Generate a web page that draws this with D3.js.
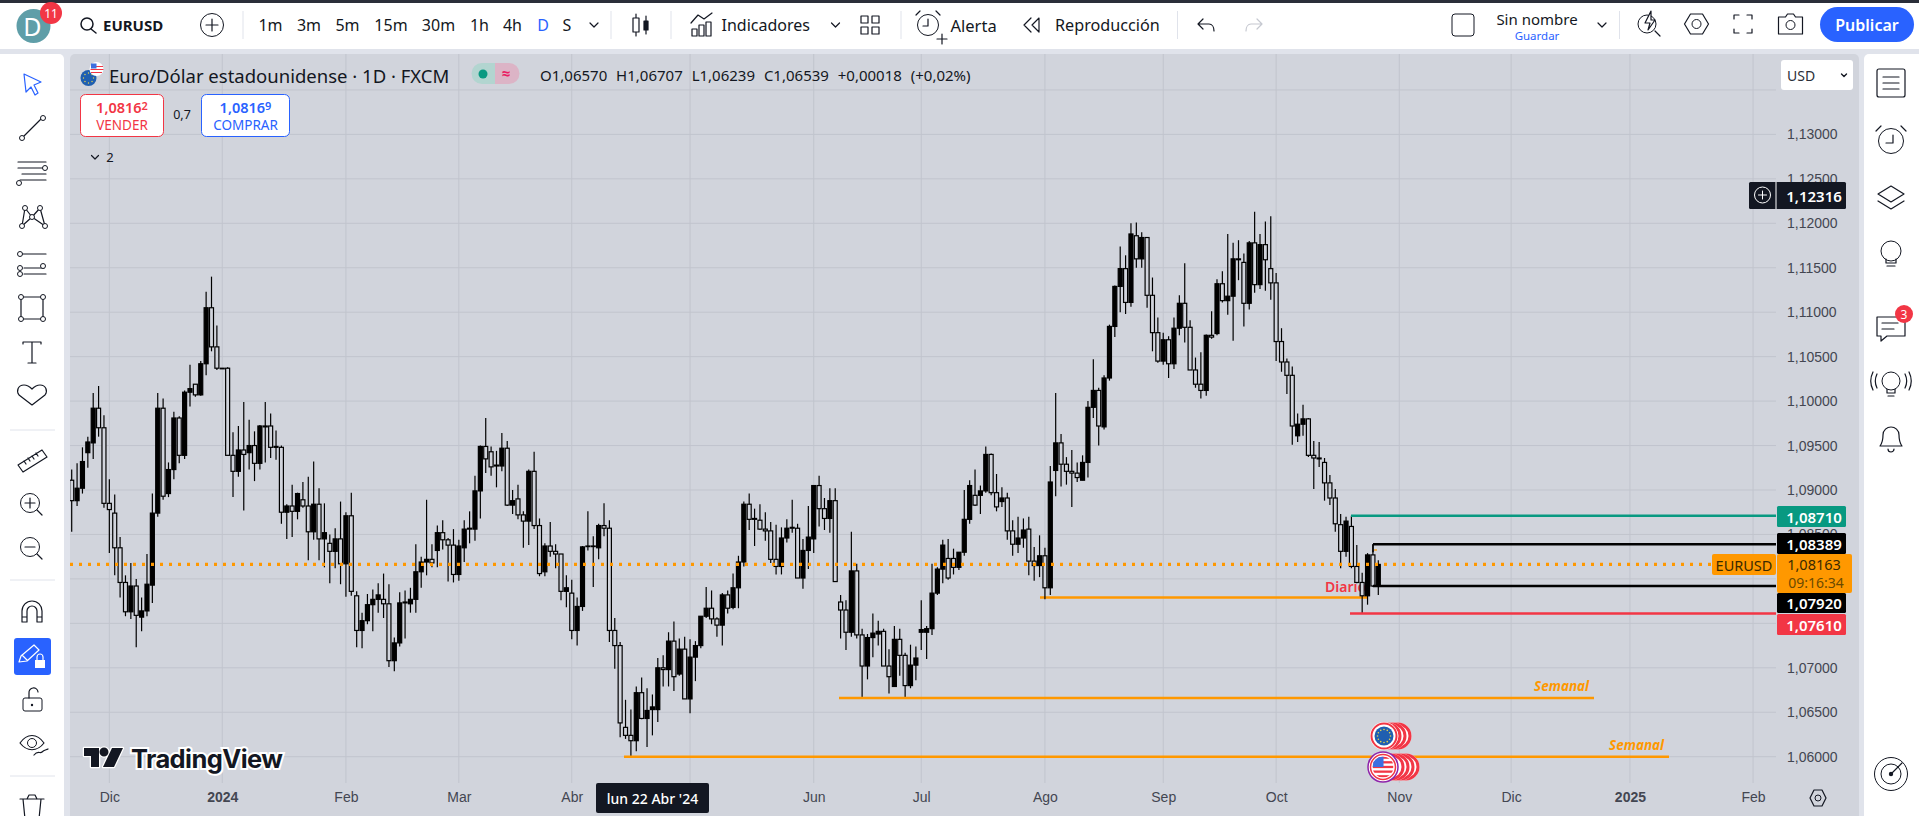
<!DOCTYPE html>
<html>
<head>
<meta charset="utf-8">
<title>EURUSD 1D</title>
<script src="https://cdn.jsdelivr.net/npm/d3@7"></script>
<style>
html, body { margin: 0; padding: 0; background: #e0e3eb; overflow: hidden; }
svg { display: block; font-family: "Noto Sans", "Open Sans", sans-serif; }
</style>
</head>
<body>
<svg id="chart" width="1919" height="816"></svg>
<script>
// daily bars
const opens = [
1.0911,1.0888,1.0902,1.0942,1.0953,1.0992,1.0970,1.0885,1.0874,1.0835,
1.0796,1.0763,1.0792,1.0757,1.0764,1.0793,1.0874,1.0992,1.0896,1.0923,
1.0981,1.0939,1.1010,1.1019,1.1007,1.1042,1.1105,1.1061,1.1037,1.1037,
1.0939,1.0921,1.0945,1.0942,1.0950,1.0930,1.0972,1.0972,1.0948,1.0948,
1.0875,1.0882,1.0876,1.0889,1.0882,1.0853,1.0884,1.0845,1.0840,1.0831,
1.0845,1.0817,1.0871,1.0781,1.0742,1.0753,1.0771,1.0777,1.0777,1.0772,
1.0708,1.0728,1.0773,1.0772,1.0777,1.0808,1.0819,1.0822,1.0832,1.0852,
1.0844,1.0838,1.0805,1.0835,1.0857,1.0856,1.0899,1.0949,1.0943,1.0928,
1.0927,1.0947,1.0883,1.0890,1.0872,1.0865,1.0921,1.0860,1.0808,1.0837,
1.0831,1.0828,1.0786,1.0784,1.0742,1.0769,1.0837,1.0837,1.0835,1.0860,
1.0857,1.0742,1.0725,1.0633,1.0624,1.0618,1.0672,1.0643,1.0653,1.0653,
1.0700,1.0698,1.0730,1.0693,1.0721,1.0665,1.0712,1.0725,1.0758,1.0767,
1.0755,1.0748,1.0782,1.0768,1.0790,1.0819,1.0884,1.0868,1.0866,1.0856,
1.0854,1.0822,1.0814,1.0846,1.0858,1.0857,1.0801,1.0832,1.0845,1.0905,
1.0879,1.0868,1.0888,1.0774,1.0765,1.0740,1.0809,1.0737,1.0702,1.0734,
1.0738,1.0741,1.0702,1.0679,1.0732,1.0714,1.0680,1.0703,1.0740,1.0740,
1.0744,1.0784,1.0811,1.0823,1.0823,1.0813,1.0830,1.0867,1.0894,1.0894,
1.0899,1.0940,1.0897,1.0887,1.0891,1.0854,1.0839,1.0846,1.0856,1.0820,
1.0815,1.0826,1.0790,1.0922,1.0953,1.0929,1.0921,1.0919,1.0911,1.0931,
1.0993,1.1012,1.0971,1.1026,1.1084,1.1129,1.1149,1.1111,1.1186,1.1160,
1.1184,1.1119,1.1077,1.1045,1.1069,1.1042,1.1082,1.1110,1.1083,1.1035,
1.1019,1.1012,1.1074,1.1076,1.1132,1.1113,1.1118,1.1160,1.1156,1.1110,
1.1178,1.1131,1.1176,1.1149,1.1133,1.1067,1.1044,1.1029,1.0961,1.0974,
1.0980,1.0939,1.0936,1.0931,1.0908,1.0891,1.0861,1.0831,1.0859,1.0814,
1.0796,1.0781,1.0827,1.0792
]
const highs = [
1.0923,1.0930,1.0948,1.0960,1.1009,1.1017,1.0984,1.0912,1.0895,1.0847,
1.0804,1.0818,1.0800,1.0779,1.0828,1.0896,1.1009,1.1003,1.0931,1.0988,
1.0983,1.1012,1.1041,1.1019,1.1045,1.1123,1.1140,1.1085,1.1037,1.1038,
1.0965,1.0972,1.0999,1.0979,1.0966,1.0973,1.0999,1.0986,1.0967,1.0950,
1.0884,1.0906,1.0897,1.0909,1.0915,1.0932,1.0902,1.0885,1.0850,1.0857,
1.0887,1.0875,1.0897,1.0786,1.0762,1.0783,1.0788,1.0795,1.0806,1.0794,
1.0734,1.0785,1.0787,1.0790,1.0839,1.0825,1.0889,1.0839,1.0860,1.0866,
1.0846,1.0856,1.0844,1.0866,1.0876,1.0916,1.0950,1.0981,1.0949,1.0944,
1.0964,1.0955,1.0900,1.0906,1.0876,1.0923,1.0943,1.0868,1.0840,1.0864,
1.0839,1.0828,1.0804,1.0799,1.0779,1.0837,1.0876,1.0848,1.0862,1.0885,
1.0866,1.0756,1.0729,1.0664,1.0653,1.0679,1.0689,1.0677,1.0670,1.0711,
1.0714,1.0740,1.0752,1.0733,1.0735,1.0732,1.0730,1.0758,1.0791,1.0787,
1.0757,1.0784,1.0787,1.0806,1.0826,1.0887,1.0896,1.0879,1.0884,1.0875,
1.0864,1.0861,1.0858,1.0867,1.0889,1.0862,1.0845,1.0882,1.0905,1.0916,
1.0891,1.0902,1.0902,1.0782,1.0776,1.0853,1.0817,1.0744,1.0738,1.0761,
1.0753,1.0744,1.0721,1.0747,1.0744,1.0717,1.0726,1.0724,1.0776,1.0747,
1.0817,1.0813,1.0844,1.0845,1.0834,1.0830,1.0900,1.0911,1.0923,1.0905,
1.0949,1.0941,1.0918,1.0903,1.0897,1.0866,1.0870,1.0868,1.0870,1.0836,
1.0849,1.0835,1.0927,1.1009,1.0963,1.0937,1.0945,1.0931,1.0939,1.1000,
1.1047,1.1015,1.1029,1.1086,1.1130,1.1174,1.1164,1.1200,1.1201,1.1190,
1.1184,1.1139,1.1094,1.1077,1.1073,1.1094,1.1119,1.1155,1.1091,1.1049,
1.1055,1.1075,1.1101,1.1137,1.1146,1.1188,1.1178,1.1181,1.1166,1.1180,
1.1213,1.1188,1.1202,1.1208,1.1144,1.1082,1.1048,1.1039,1.0986,1.0996,
1.0981,1.0955,1.0954,1.0936,1.0917,1.0901,1.0873,1.0870,1.0871,1.0838,
1.0807,1.0829,1.08389,1.0821
]
const lows = [
1.0853,1.0882,1.0896,1.0925,1.0935,1.0960,1.0880,1.0829,1.0804,1.0779,
1.0758,1.0755,1.0723,1.0741,1.0758,1.0773,1.0870,1.0889,1.0892,1.0912,
1.0930,1.0935,1.0994,1.1005,1.1006,1.1029,1.1056,1.1035,1.1036,1.0939,
1.0892,1.0915,1.0877,1.0923,1.0910,1.0923,1.0931,1.0936,1.0934,1.0862,
1.0845,1.0847,1.0867,1.0880,1.0821,1.0844,1.0821,1.0813,1.0795,1.0812,
1.0794,1.0780,1.0781,1.0723,1.0722,1.0749,1.0741,1.0762,1.0756,1.0701,
1.0696,1.0724,1.0733,1.0762,1.0762,1.0790,1.0804,1.0813,1.0813,1.0833,
1.0797,1.0796,1.0798,1.0819,1.0840,1.0843,1.0868,1.0919,1.0916,1.0903,
1.0921,1.0882,1.0873,1.0867,1.0835,1.0838,1.0856,1.0803,1.0803,1.0825,
1.0812,1.0776,1.0768,1.0732,1.0725,1.0764,1.0832,1.0791,1.0822,1.0848,
1.0729,1.0699,1.0622,1.0620,1.0600,1.0606,1.0642,1.0611,1.0624,1.0639,
1.0679,1.0679,1.0674,1.0691,1.0665,1.0649,1.0685,1.0722,1.0756,1.0749,
1.0735,1.0725,1.0761,1.0766,1.0767,1.0814,1.0855,1.0837,1.0855,1.0843,
1.0818,1.0805,1.0805,1.0841,1.0852,1.0801,1.0789,1.0811,1.0829,1.0859,
1.0855,1.0852,1.0797,1.0733,1.0720,1.0735,1.0733,1.0667,1.0687,1.0712,
1.0725,1.0702,1.0671,1.0679,1.0691,1.0666,1.0677,1.0686,1.0720,1.0710,
1.0737,1.0782,1.0795,1.0799,1.0805,1.0810,1.0826,1.0862,1.0882,1.0873,
1.0897,1.0894,1.0876,1.0881,1.0844,1.0826,1.0829,1.0835,1.0804,1.0798,
1.0802,1.0777,1.0782,1.0893,1.0904,1.0906,1.0881,1.0909,1.0911,1.0914,
1.0981,1.0950,1.0968,1.1023,1.1072,1.1100,1.1098,1.1106,1.1150,1.1150,
1.1105,1.1056,1.1043,1.1041,1.1026,1.1036,1.1074,1.1066,1.1035,1.1015,
1.1003,1.1006,1.1070,1.1074,1.1111,1.1097,1.1068,1.1136,1.1084,1.1103,
1.1122,1.1126,1.1124,1.1114,1.1045,1.1033,1.1008,1.0951,1.0954,1.0961,
1.0937,1.0901,1.0926,1.0888,1.0883,1.0853,1.0812,1.0825,1.0812,1.0795,
1.0761,1.0771,1.0791,1.0782
]
const closes = [
1.0888,1.0902,1.0932,1.0954,1.0992,1.0970,1.0885,1.0878,1.0835,1.0796,
1.0763,1.0792,1.0759,1.0764,1.0794,1.0874,1.0992,1.0893,1.0923,1.0981,
1.0939,1.1010,1.1014,1.1007,1.1042,1.1105,1.1061,1.1037,1.1037,1.0939,
1.0921,1.0945,1.0940,1.0950,1.0930,1.0972,1.0971,1.0948,1.0949,1.0875,
1.0882,1.0876,1.0896,1.0882,1.0853,1.0884,1.0845,1.0852,1.0831,1.0845,
1.0817,1.0871,1.0786,1.0742,1.0753,1.0771,1.0777,1.0782,1.0772,1.0708,
1.0728,1.0773,1.0774,1.0777,1.0808,1.0819,1.0822,1.0818,1.0852,1.0844,
1.0838,1.0805,1.0837,1.0856,1.0856,1.0899,1.0949,1.0935,1.0926,1.0927,
1.0947,1.0883,1.0888,1.0872,1.0865,1.0921,1.0860,1.0806,1.0837,1.0831,
1.0828,1.0786,1.0790,1.0742,1.0769,1.0836,1.0837,1.0837,1.0860,1.0857,
1.0742,1.0725,1.0638,1.0624,1.0618,1.0672,1.0643,1.0652,1.0656,1.0700,
1.0698,1.0730,1.0690,1.0721,1.0665,1.0712,1.0725,1.0758,1.0767,1.0755,
1.0748,1.0782,1.0767,1.0790,1.0819,1.0884,1.0867,1.0867,1.0856,1.0854,
1.0822,1.0814,1.0846,1.0857,1.0857,1.0801,1.0832,1.0847,1.0905,1.0879,
1.0868,1.0888,1.0797,1.0765,1.0740,1.0809,1.0737,1.0702,1.0734,1.0739,
1.0741,1.0702,1.0690,1.0732,1.0714,1.0680,1.0703,1.0711,1.0743,1.0744,
1.0784,1.0811,1.0838,1.0801,1.0813,1.0830,1.0867,1.0905,1.0883,1.0899,
1.0940,1.0897,1.0881,1.0891,1.0854,1.0839,1.0846,1.0855,1.0820,1.0815,
1.0826,1.0790,1.0909,1.0953,1.0929,1.0921,1.0919,1.0914,1.0931,1.0993,
1.1012,1.0972,1.1026,1.1084,1.1129,1.1149,1.1111,1.1188,1.1160,1.1184,
1.1119,1.1077,1.1045,1.1069,1.1042,1.1082,1.1110,1.1083,1.1035,1.1019,
1.1012,1.1074,1.1072,1.1132,1.1113,1.1118,1.1160,1.1159,1.1110,1.1178,
1.1131,1.1176,1.1159,1.1133,1.1067,1.1044,1.1029,1.0972,1.0974,1.0980,
1.0939,1.0936,1.0935,1.0908,1.0891,1.0862,1.0831,1.0865,1.0814,1.0796,
1.0781,1.0827,1.0792,1.08163
]

const priceTicks = [1.135,1.13,1.125,1.12,1.115,1.11,1.105,1.1,1.095,1.09,1.085,1.08,1.075,1.07,1.065,1.06]
// these two sit fully under the price tags in the picture, so no label
const hiddenPriceLabels = [1.08, 1.075]
// where the months start, in bars from the first candle
const timeTicks = [7,28,51,72,93,115,138,158,181,203,224,246.9,267.7,289.8,312.7]
const timeLabels = ["Dic","2024","Feb","Mar","Abr","","Jun","Jul","Ago","Sep","Oct","Nov","Dic","2025","Feb"]

const lastPrice = 1.08163
const takeProfit = 1.0871
const blackHigh = 1.08389
const blackLow = 1.0792
const stopLoss = 1.0761
const diarioLevel = 1.0779
const semanalTop = 1.0666
const semanalBottom = 1.06

const svg = d3.select("#chart")
const BG = "#d1d4dc", GRID = "#c1c4cd", INK = "#131722", BLUE = "#2962ff", ORANGE = "#ff9800", RED = "#f23645", TEAL = "#089981"

const x = d3.scaleLinear().domain([0, 243]).range([71.7, 1378.3])
const y = d3.scaleLinear().domain([1.06, 1.13]).range([756.7, 134.4])

function text(g, px, py, str, o) {
    o = o || {}
    return g.append("text").attr("x", px).attr("y", py)
        .attr("text-anchor", o.anchor || "start")
        .attr("dominant-baseline", "central")
        .attr("font-size", o.size || 14)
        .attr("font-weight", o.weight || 400)
        .attr("font-style", o.style || "normal")
        .attr("fill", o.fill || INK)
        .text(str)
}

function icon(g, px, py, d, o) {
    o = o || {}
    return g.append("path").attr("transform", "translate(" + px + "," + py + ")")
        .attr("d", d).attr("fill", o.fill || "none")
        .attr("stroke", o.stroke || INK).attr("stroke-width", o.width || 1.2)
        .attr("stroke-linecap", "round").attr("stroke-linejoin", "round")
}

// ---- page panels
svg.append("rect").attr("width", 1919).attr("height", 816).attr("fill", "#e0e3eb")
svg.append("rect").attr("y", 0).attr("width", 1919).attr("height", 3).attr("fill", "#2a2e39")
svg.append("rect").attr("y", 3).attr("width", 1919).attr("height", 46).attr("fill", "#fff")
svg.append("rect").attr("x", -8).attr("y", 54).attr("width", 72).attr("height", 780).attr("rx", 5).attr("fill", "#fff")
svg.append("rect").attr("x", 1864).attr("y", 54).attr("width", 70).attr("height", 780).attr("rx", 5).attr("fill", "#fff")
svg.append("rect").attr("x", 70).attr("y", 54).attr("width", 1789).attr("height", 780).attr("rx", 5).attr("fill", BG)

// ---- grid
const grid = svg.append("g")
grid.selectAll("line.h").data(priceTicks).enter().append("line").attr("class", "h")
    .attr("x1", 70).attr("x2", 1776).attr("y1", d => y(d)).attr("y2", d => y(d))
    .attr("stroke", GRID).attr("stroke-width", 1)
grid.selectAll("line.v").data(timeTicks).enter().append("line").attr("class", "v")
    .attr("x1", d => x(d)).attr("x2", d => x(d)).attr("y1", 54).attr("y2", 783)
    .attr("stroke", GRID).attr("stroke-width", 1)

function level(price, x1, x2, color) {
    svg.append("line").attr("x1", x1).attr("x2", x2).attr("y1", y(price)).attr("y2", y(price))
        .attr("stroke", color).attr("stroke-width", 2.4)
}

// the daily level and its label stay behind the candles
text(svg, 1325, 586, "Diario", { size: 14, weight: 600, fill: RED })
level(diarioLevel, 1040, 1367, ORANGE)

// ---- candles
svg.append("clipPath").attr("id", "plot").append("rect").attr("x", 70).attr("y", 54).attr("width", 1706).attr("height", 729)
const bars = svg.append("g").attr("clip-path", "url(#plot)")
const candles = bars.selectAll("g.c").data(opens.map((d, i) => i)).enter().append("g").attr("class", "c")
candles.append("line")
    .attr("x1", i => x(i)).attr("x2", i => x(i))
    .attr("y1", i => y(highs[i])).attr("y2", i => y(lows[i]))
    .attr("stroke", "#000").attr("stroke-width", 1.2)
candles.append("rect")
    .attr("x", i => x(i) - 2).attr("width", 4)
    .attr("y", i => y(Math.max(opens[i], closes[i])))
    .attr("height", i => Math.max(0.6, Math.abs(y(opens[i]) - y(closes[i]))))
    .attr("fill", i => closes[i] > opens[i] ? "#000" : BG)
    .attr("stroke", "#000").attr("stroke-width", 1.2)

// ---- drawings on the chart
level(semanalTop, 839, 1594, ORANGE)
level(semanalBottom, 624, 1669, ORANGE)
level(takeProfit, 1351, 1776, TEAL)
level(blackHigh, 1373, 1776, "#000")
level(blackLow, 1373, 1776, "#000")
level(stopLoss, 1350, 1776, RED)
svg.append("line").attr("x1", 1373).attr("x2", 1373).attr("y1", y(blackHigh)).attr("y2", y(blackHigh) + 8).attr("stroke", "#000").attr("stroke-width", 1.5)
svg.append("rect").attr("x", 1374).attr("y", 549).attr("width", 3).attr("height", 2).attr("fill", ORANGE).attr("opacity", 0.6)

svg.append("line").attr("x1", 70).attr("x2", 1712).attr("y1", y(lastPrice)).attr("y2", y(lastPrice))
    .attr("stroke", ORANGE).attr("stroke-width", 3.2).attr("stroke-dasharray", "3 6")

text(svg, 1534, 686, "Semanal", { size: 13.5, weight: 700, style: "italic", fill: ORANGE })
text(svg, 1609, 745, "Semanal", { size: 13.5, weight: 700, style: "italic", fill: ORANGE })

// ---- economic event flags
function usFlag(cx, cy, r) {
    const id = "us" + cx
    svg.append("clipPath").attr("id", id).append("circle").attr("cx", cx).attr("cy", cy).attr("r", r)
    const f = svg.append("g").attr("clip-path", "url(#" + id + ")")
    f.append("rect").attr("x", cx - r).attr("y", cy - r).attr("width", 2 * r).attr("height", 2 * r).attr("fill", "#fff")
    d3.range(0, 5).forEach(k => {
        f.append("rect").attr("x", cx - r).attr("y", cy - r + k * 2 * r / 4.5).attr("width", 2 * r).attr("height", r / 4.6).attr("fill", RED)
    })
    f.append("rect").attr("x", cx - r).attr("y", cy - r).attr("width", r * 1.05).attr("height", r).attr("fill", "#3d6fe0")
}
function ring(cx, cy, r) {
    svg.append("circle").attr("cx", cx).attr("cy", cy).attr("r", r + 1.5).attr("fill", "#fff")
    svg.append("circle").attr("cx", cx).attr("cy", cy).attr("r", r).attr("fill", "none").attr("stroke", RED).attr("stroke-width", 3)
}
ring(1398, 736, 12); ring(1393, 736, 12); ring(1388, 736, 12)
svg.append("circle").attr("cx", 1384).attr("cy", 736).attr("r", 14).attr("fill", "#fff")
svg.append("circle").attr("cx", 1384).attr("cy", 736).attr("r", 12.5).attr("fill", "none").attr("stroke", RED).attr("stroke-width", 2)
svg.append("circle").attr("cx", 1384).attr("cy", 736).attr("r", 9.5).attr("fill", "#1f5fb0")
svg.selectAll("circle.star").data(d3.range(12)).enter().append("circle").attr("class", "star")
    .attr("cx", k => 1384 + 6.5 * Math.cos(k * Math.PI / 6)).attr("cy", k => 736 + 6.5 * Math.sin(k * Math.PI / 6))
    .attr("r", 0.8).attr("fill", "#e8d44d")

ring(1406, 767, 12); ring(1401, 767, 12); ring(1396, 767, 12); ring(1391, 767, 12)
svg.append("circle").attr("cx", 1383).attr("cy", 767).attr("r", 15).attr("fill", "#fff").attr("stroke", "#8e24aa").attr("stroke-width", 1.5)
svg.append("circle").attr("cx", 1383).attr("cy", 767).attr("r", 12.5).attr("fill", "none").attr("stroke", RED).attr("stroke-width", 1.5)
usFlag(1383, 767, 10.5)

// ---- price axis
const yAxis = d3.axisRight(y).tickValues(priceTicks.slice(1).filter(d => !hiddenPriceLabels.includes(d))).tickSize(0).tickPadding(0)
    .tickFormat(d => d3.format(".5f")(d).replace(".", ","))
const yG = svg.append("g").attr("transform", "translate(1787,0)").call(yAxis)
yG.select(".domain").remove()
yG.selectAll("text").attr("font-family", "inherit").attr("font-size", 14).attr("fill", "#434651")

function priceTag(x1, x2, y1, y2, color, label, fg) {
    svg.append("rect").attr("x", x1).attr("y", y1).attr("width", x2 - x1).attr("height", y2 - y1).attr("rx", 1.5).attr("fill", color)
    text(svg, 1814, (y1 + y2) / 2, label, { anchor: "middle", size: 15, weight: 600, fill: fg || "#fff" })
}
priceTag(1749, 1846, 182, 209, INK, "1,12316")
svg.append("line").attr("x1", 1776).attr("x2", 1776).attr("y1", 182).attr("y2", 209).attr("stroke", "#fff")
svg.append("circle").attr("cx", 1762.5).attr("cy", 195).attr("r", 8).attr("fill", "none").attr("stroke", "#fff")
icon(svg, 1762.5, 195, "M-4 0H4M0 -4V4", { stroke: "#fff", width: 1 })
priceTag(1777, 1846, 506, 527, TEAL, "1,08710")
priceTag(1777, 1846, 533, 554, "#000", "1,08389")
priceTag(1777, 1846, 593, 613, "#000", "1,07920")
priceTag(1777, 1846, 614, 635, RED, "1,07610")
svg.append("rect").attr("x", 1712).attr("y", 554).attr("width", 64).attr("height", 21).attr("rx", 2).attr("fill", ORANGE)
text(svg, 1744, 564.5, "EURUSD", { anchor: "middle", size: 14.5, fill: "#3a2a00" })
svg.append("rect").attr("x", 1777).attr("y", 554).attr("width", 75).attr("height", 39).attr("rx", 2).attr("fill", ORANGE)
text(svg, 1814, 564, "1,08163", { anchor: "middle", size: 14.5, fill: "#3a2a00" })
text(svg, 1816, 582, "09:16:34", { anchor: "middle", fill: "#6b4a00" })

svg.append("rect").attr("x", 1781).attr("y", 60).attr("width", 72).attr("height", 30).attr("rx", 3).attr("fill", "#fff")
text(svg, 1787, 75, "USD", { size: 14, fill: "#2a2e39" })
icon(svg, 1844, 75, "M-2.5 -1L0 1.5L2.5 -1", { width: 1.4 })

// ---- time axis
const xAxis = d3.axisBottom(x).tickValues(timeTicks).tickSize(0).tickPadding(0)
    .tickFormat((d, i) => timeLabels[i])
const xG = svg.append("g").attr("transform", "translate(0,792)").call(xAxis)
xG.select(".domain").remove()
xG.selectAll("text").attr("font-family", "inherit").attr("font-size", 14).attr("fill", "#434651")
    .attr("font-weight", d => (d === 28 || d === 289.8) ? 700 : 400)

svg.append("rect").attr("x", 596).attr("y", 783).attr("width", 113).attr("height", 30).attr("rx", 2).attr("fill", INK)
text(svg, 652.5, 798, "lun 22 Abr '24", { anchor: "middle", fill: "#fff", weight: 500 })
icon(svg, 1818, 798, "M-4 -8L4 -8L8 0L4 8L-4 8L-8 0Z")
svg.append("circle").attr("cx", 1818).attr("cy", 798).attr("r", 3).attr("fill", "none").attr("stroke", INK)

// ---- logo
const logo = svg.append("g")
text(logo, 131, 758, "TradingView", { size: 25.5, weight: 700, fill: INK })
    .attr("font-family", "Inter").attr("letter-spacing", -0.6)
    .attr("paint-order", "stroke").attr("stroke", "#fff").attr("stroke-width", 4)
icon(logo, 0, 0, "M84 748H99V767H91V756H84Z M104 752m-4.5 0a4.5 4.5 0 1 0 9 0a4.5 4.5 0 1 0 -9 0 M112 748H123L114 767H103Z", { fill: INK, stroke: "#fff", width: 2.5 })
    .attr("paint-order", "stroke")

// ---- chart legend
const leg = svg.append("g")
leg.append("circle").attr("cx", 88.5).attr("cy", 78).attr("r", 8).attr("fill", "#1f5fb0")
leg.selectAll("circle.legstar").data(d3.range(8)).enter().append("circle").attr("class", "legstar")
    .attr("cx", k => 88.5 + 5 * Math.cos(k * Math.PI / 4)).attr("cy", k => 78 + 5 * Math.sin(k * Math.PI / 4))
    .attr("r", 0.7).attr("fill", "#e8d44d")
leg.append("circle").attr("cx", 96.5).attr("cy", 69).attr("r", 7).attr("fill", "#fff")
leg.append("path").attr("d", "M91 66.5h12M90.5 69.5h13M91 72.5h11").attr("stroke", RED).attr("stroke-width", 1.2)
leg.append("rect").attr("x", 91).attr("y", 63.5).attr("width", 5.5).attr("height", 5).attr("fill", "#3d6fe0")
text(leg, 109, 75, "Euro/Dólar estadounidense · 1D · FXCM", { size: 18.5 })
leg.append("path").attr("d", "M482 63H495V84H482a10.5 10.5 0 0 1 0 -21Z").attr("fill", "#b2d5d0")
leg.append("path").attr("d", "M495 63H509a10.5 10.5 0 0 1 0 21H495Z").attr("fill", "#dcb4c6")
leg.append("circle").attr("cx", 483).attr("cy", 74).attr("r", 4.5).attr("fill", TEAL)
text(leg, 506, 73, "≈", { size: 15, anchor: "middle", weight: 700, fill: "#e91e63" })
text(leg, 540, 75, "O1,06570 H1,06707 L1,06239 C1,06539 +0,00018 (+0,02%)", { size: 15 }).attr("word-spacing", 5)

function quote(cx, main, small, color) {
    const t = text(leg, cx, 107, main, { anchor: "middle", size: 14.5, weight: 600, fill: color })
    t.append("tspan").attr("font-size", 11).attr("dy", -2.5).text(small)
}
leg.append("rect").attr("x", 80.5).attr("y", 94.5).attr("width", 83).attr("height", 42).attr("rx", 5).attr("fill", "#fff").attr("stroke", RED)
quote(122, "1,0816", "2", RED)
text(leg, 122, 125, "VENDER", { anchor: "middle", size: 13.5, fill: RED })
text(leg, 182, 114, "0,7", { anchor: "middle", size: 12.5 })
leg.append("rect").attr("x", 201.5).attr("y", 94.5).attr("width", 88).attr("height", 42).attr("rx", 5).attr("fill", "#fff").attr("stroke", BLUE)
quote(245.5, "1,0816", "9", BLUE)
text(leg, 245.5, 125, "COMPRAR", { anchor: "middle", size: 13.5, fill: BLUE })
icon(leg, 95, 157, "M-3.5 -1.5L0 2L3.5 -1.5")
text(leg, 110, 157, "2", { anchor: "middle", size: 13 })

// ---- top bar
const topBar = svg.append("g")
topBar.append("circle").attr("cx", 33.5).attr("cy", 26).attr("r", 17).attr("fill", "#5f9ea8")
text(topBar, 32.5, 26, "D", { anchor: "middle", size: 25, fill: "#fff" })
topBar.append("circle").attr("cx", 51).attr("cy", 13).attr("r", 11).attr("fill", RED)
text(topBar, 51, 13, "11", { anchor: "middle", size: 12, fill: "#fff" })
topBar.append("circle").attr("cx", 87).attr("cy", 24).attr("r", 6).attr("fill", "none").attr("stroke", INK).attr("stroke-width", 1.5)
icon(topBar, 0, 0, "M91 29L96 33", { width: 1.5 })
text(topBar, 103, 25, "EURUSD", { size: 15, weight: 700 })
topBar.append("circle").attr("cx", 212).attr("cy", 25).attr("r", 11.5).attr("fill", "none").attr("stroke", INK)
icon(topBar, 212, 25, "M-6 0H6M0 -6V6")

const separators = [243, 611, 671, 901, 1177.5, 1619.5]
topBar.selectAll("line.sep").data(separators).enter().append("line").attr("class", "sep")
    .attr("x1", d => d).attr("x2", d => d).attr("y1", 11).attr("y2", 39).attr("stroke", "#e0e3eb")

const intervalNames = ["1m", "3m", "5m", "15m", "30m", "1h", "4h", "D", "S"]
const intervalX = [270.5, 309, 347.5, 391, 438.5, 479.5, 512.5, 543, 567]
intervalNames.forEach((n, i) => text(topBar, intervalX[i], 25, n, { anchor: "middle", size: 16, fill: n === "D" ? BLUE : INK }))
icon(topBar, 594, 25, "M-4 -2L0 2L4 -2")

// candle style icon
icon(topBar, 636, 25, "M-3 -7H3V7H-3Z M0 -11V-7 M0 7V11")
icon(topBar, 646, 25, "M-2 -4H2V5H-2Z M0 -9V-4 M0 5V9", { fill: INK })
// indicators
icon(topBar, 702, 25, "M-11 -2L-4 -10L2 -6L10 -12 M-10 11V4H-5V11Z M-3 11V0H2V11Z M4 11V-3H9V11Z")
text(topBar, 721.5, 25, "Indicadores", { size: 16 })
icon(topBar, 835.5, 25, "M-4 -2L0 2L4 -2")
icon(topBar, 870, 25, "M-9 -9H-2V-2H-9Z M2 -9H9V-2H2Z M-9 2H-2V9H-9Z M2 2H9V9H2Z")
// alert
topBar.append("circle").attr("cx", 928).attr("cy", 25).attr("r", 10.5).attr("fill", "none").attr("stroke", INK)
icon(topBar, 928, 25, "M0 -6V1H-5 M-12 -10L-8 -14 M12 -10L8 -14 M9 14H19M14 9V19")
text(topBar, 950.5, 25, "Alerta", { size: 16.5 })
icon(topBar, 1033, 25, "M-2 -7L-9 0L-2 7 M6 -7L-1 0L6 7 Z")
text(topBar, 1055, 25, "Reproducción", { size: 16.2 })
icon(topBar, 1206, 25, "M-3 -6L-8 -1L-3 4 M-8 -1H3C6 -1 8 2 8 6")
icon(topBar, 1254, 25, "M3 -6L8 -1L3 4 M8 -1H-3C-6 -1 -8 2 -8 6", { stroke: "#c5c8d0" })

topBar.append("rect").attr("x", 1452).attr("y", 14).attr("width", 22).attr("height", 22).attr("rx", 3).attr("fill", "none").attr("stroke", INK)
text(topBar, 1537, 19, "Sin nombre", { anchor: "middle", size: 15 })
text(topBar, 1537, 35, "Guardar", { anchor: "middle", size: 11.5, fill: BLUE })
icon(topBar, 1602, 25, "M-4 -2L0 2L4 -2")
topBar.append("circle").attr("cx", 1647).attr("cy", 24).attr("r", 9).attr("fill", "none").attr("stroke", INK)
icon(topBar, 1650, 22, "M1 -11L-5 1H0L-2 8L5 -2H1Z M5 9L10 14", { fill: "#fff" })
icon(topBar, 1696.5, 24, "M-6 -10H6L12 0L6 10H-6L-12 0Z")
topBar.append("circle").attr("cx", 1696.5).attr("cy", 24).attr("r", 4.5).attr("fill", "none").attr("stroke", INK)
icon(topBar, 1743, 24, "M-9 -5V-9H-4 M4 -9H9V-5 M9 5V9H4 M-4 9H-9V5")
icon(topBar, 1790.5, 24, "M-12 -7H-5L-3 -10H3L5 -7H12V10H-12Z")
topBar.append("circle").attr("cx", 1790.5).attr("cy", 25).attr("r", 4.5).attr("fill", "none").attr("stroke", INK)
topBar.append("rect").attr("x", 1820).attr("y", 7).attr("width", 94).attr("height", 35).attr("rx", 17.5).attr("fill", BLUE)
text(topBar, 1867, 25, "Publicar", { anchor: "middle", size: 16, weight: 600, fill: "#fff" })

// ---- left tools
const leftBar = svg.append("g")
function dot(g, px, py) { g.append("circle").attr("cx", px).attr("cy", py).attr("r", 2.5).attr("fill", "#fff").attr("stroke", INK) }
icon(leftBar, 32, 84, "M-8 -10L9 -2L2 1L6 9L3 11L-1 3L-6 8Z", { stroke: BLUE })
icon(leftBar, 32, 128, "M-10 10L10 -10"); dot(leftBar, 22, 138); dot(leftBar, 43, 118)
icon(leftBar, 32, 170, "M-14 -8H14M-14 -2H12M-10 4H14M-12 10H14"); dot(leftBar, 45, 168); dot(leftBar, 19, 183)
icon(leftBar, 32, 217, "M-10 9L-7 -9L0 0L8 -9L13 9L0 0L-10 9")
;[[22, 226], [25, 208], [32, 217], [40, 208], [45, 226]].forEach(p => dot(leftBar, p[0], p[1]))
icon(leftBar, 32, 264, "M-10 -10H14 M-8 4H12 M-8 10H14"); dot(leftBar, 20, 254); dot(leftBar, 20, 268); dot(leftBar, 20, 274); dot(leftBar, 43, 266)
icon(leftBar, 32, 308, "M-11 -11H11V11H-11Z"); dot(leftBar, 21, 297); dot(leftBar, 43, 297); dot(leftBar, 21, 319); dot(leftBar, 43, 319)
icon(leftBar, 32, 352, "M-9 -10H9M0 -10V11M-4 11H4M-9 -10V-8M9 -10V-8")
icon(leftBar, 32, 394, "M0 11L-13 1C-16 -3 -14 -9 -8 -9C-4 -9 -1 -6 0 -5C1 -6 4 -9 8 -9C14 -9 16 -3 13 1Z")
icon(leftBar, 32, 460, "M-14 5L10 -10L15 -3L-9 12Z M-8 1L-6 4M-4 -2L-2 1M0 -4L2 -1M4 -7L6 -4")
leftBar.append("circle").attr("cx", 30).attr("cy", 503).attr("r", 9.5).attr("fill", "none").attr("stroke", INK)
icon(leftBar, 30, 503, "M-5 0H5M0 -5V5M7 7L12 12")
leftBar.append("circle").attr("cx", 30).attr("cy", 547).attr("r", 9.5).attr("fill", "none").attr("stroke", INK)
icon(leftBar, 30, 547, "M-5 0H5M7 7L12 12")
icon(leftBar, 32, 612, "M-10 10V-1A10 10 0 0 1 10 -1V10H5V-1A5 5 0 0 0 -5 -1V10Z M-10 5H-5M5 5H10")
leftBar.append("rect").attr("x", 14).attr("y", 638).attr("width", 37).attr("height", 37).attr("rx", 3).attr("fill", BLUE)
icon(leftBar, 30, 654, "M-11 8L-9 2L4 -9L9 -4L-3 7Z M-8 1L-3 6", { stroke: "#fff", fill: "none" })
leftBar.append("rect").attr("x", 35).attr("y", 660).attr("width", 10).attr("height", 8).attr("fill", "#fff")
icon(leftBar, 40, 660, "M-3 0V-3A3 3 0 0 1 3 -3V0", { stroke: "#fff" })
leftBar.append("rect").attr("x", 23).attr("y", 698).attr("width", 19).attr("height", 13).attr("rx", 2).attr("fill", "none").attr("stroke", INK)
icon(leftBar, 32, 698, "M-3 0V-5A4.5 4.5 0 0 1 6 -6")
leftBar.append("circle").attr("cx", 32).attr("cy", 705).attr("r", 1.2).attr("fill", INK)
icon(leftBar, 32, 743, "M-12 0C-5 -10 5 -10 12 0C5 9 -5 9 -12 0Z")
leftBar.append("circle").attr("cx", 32).attr("cy", 743).attr("r", 4.5).attr("fill", "none").attr("stroke", INK)
icon(leftBar, 42, 752, "M-8 3C-4 -2 -2 2 0 0C2 -2 4 -2 6 -3")
leftBar.selectAll("line.ls").data([430, 580, 776]).enter().append("line").attr("class", "ls")
    .attr("x1", 10).attr("x2", 55).attr("y1", d => d).attr("y2", d => d).attr("stroke", "#e0e3eb")
icon(leftBar, 32, 805, "M-12 -6H12M-5 -6L-3 -10H3L5 -6M-9 -6L-7 14H7L9 -6")

// ---- right tools
const rightBar = svg.append("g")
icon(rightBar, 1891, 83, "M-12 -14H12Q14 -14 14 -12V12Q14 14 12 14H-12Q-14 14 -14 12V-12Q-14 -14 -12 -14Z M-8 -6H8M-8 0H8M-8 6H8")
rightBar.append("circle").attr("cx", 1891).attr("cy", 141).attr("r", 12.5).attr("fill", "none").attr("stroke", INK)
icon(rightBar, 1891, 141, "M2 -6V2H-5 M-15 -10L-10 -15 M15 -10L10 -15")
icon(rightBar, 1891, 198, "M-13 -4L0 -12L13 -4L0 4Z M-13 3L0 11L13 3")
rightBar.append("circle").attr("cx", 1891).attr("cy", 251).attr("r", 10).attr("fill", "none").attr("stroke", INK)
icon(rightBar, 1891, 251, "M-5 8V12H5V8 M-4 15H4")
icon(rightBar, 1891, 328, "M-14 -11H14V8H-4L-10 13V8H-14Z M-9 -5H7M-9 1H3")
rightBar.append("circle").attr("cx", 1904).attr("cy", 314).attr("r", 9).attr("fill", RED)
text(rightBar, 1904, 314, "3", { anchor: "middle", size: 12, fill: "#fff" })
rightBar.append("circle").attr("cx", 1891).attr("cy", 381).attr("r", 9).attr("fill", "none").attr("stroke", INK)
icon(rightBar, 1891, 381, "M-4 8V12H4V8 M-3 15H3 M-14 -7A16 16 0 0 0 -14 7 M14 -7A16 16 0 0 1 14 7 M-18 -9A20 20 0 0 0 -18 9 M18 -9A20 20 0 0 1 18 9")
icon(rightBar, 1891, 438, "M-11 8C-8 4 -8 0 -8 -3C-8 -8 -4 -11 0 -11C4 -11 8 -8 8 -3C8 0 8 4 11 8Z M-3 11A3 3 0 0 0 3 11")
rightBar.append("circle").attr("cx", 1891).attr("cy", 774).attr("r", 16.5).attr("fill", "none").attr("stroke", INK)
rightBar.append("circle").attr("cx", 1891).attr("cy", 774).attr("r", 10).attr("fill", "none").attr("stroke", INK)
rightBar.append("circle").attr("cx", 1891).attr("cy", 774).attr("r", 2.2).attr("fill", INK)
icon(rightBar, 1891, 774, "M0 0L11 -11")
</script>
</body>
</html>
